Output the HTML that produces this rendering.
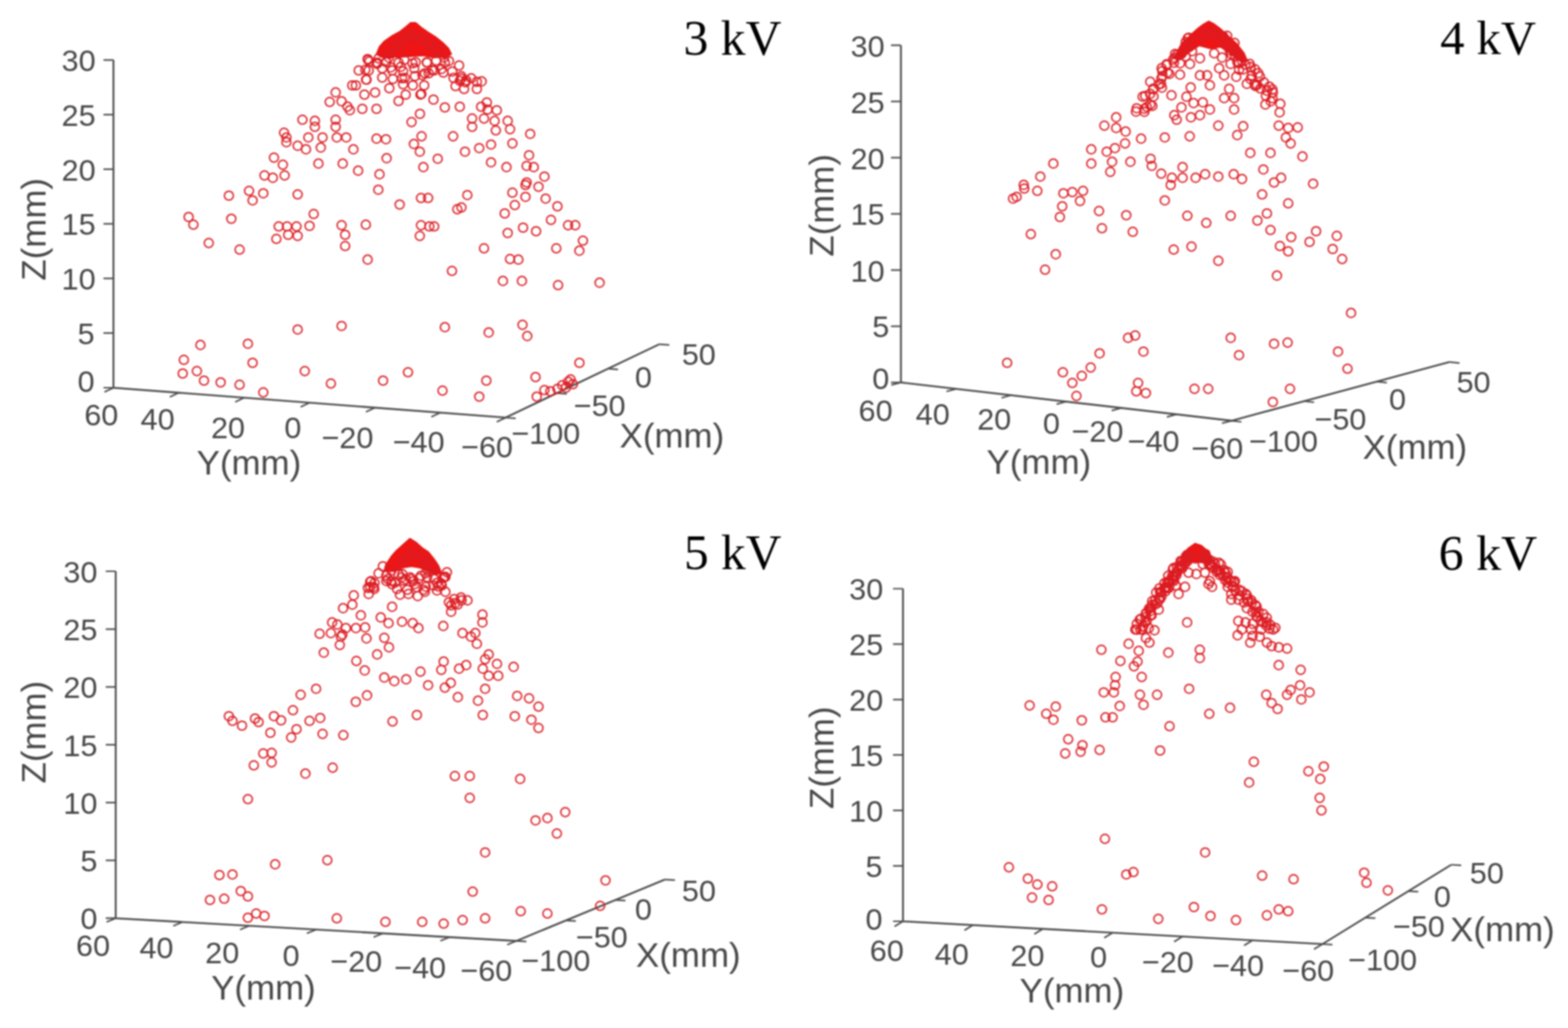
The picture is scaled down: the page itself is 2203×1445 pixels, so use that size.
<!DOCTYPE html>
<html><head><meta charset="utf-8"><style>
html,body{margin:0;padding:0;background:#fff;}
body{width:2203px;height:1445px;overflow:hidden;}
svg{display:block;filter:blur(0.9px);}
</style></head><body>
<svg width="2203" height="1445" viewBox="0 0 2203 1445">
<rect width="2203" height="1445" fill="#fff"/>
<g><path d="M159.4,84.3 L159.4,545 L710.5,587 L926.3,483.8" fill="none" stroke="#4c4c4c" stroke-width="2.6" stroke-linejoin="miter"/><path d="M159.4,545.0 L145.4,545.0 M159.4,468.2 L145.4,468.2 M159.4,391.4 L145.4,391.4 M159.4,314.6 L145.4,314.6 M159.4,237.9 L145.4,237.9 M159.4,161.1 L145.4,161.1 M159.4,84.3 L145.4,84.3 M159.4,545.0 L146.8,551.0 M251.2,552.0 L238.6,558.0 M343.1,559.0 L330.5,565.0 M435.0,566.0 L422.3,572.0 M526.8,573.0 L514.2,579.0 M618.6,580.0 L606.0,586.0 M710.5,587.0 L697.9,593.0 M710.5,587.0 L724.5,588.1 M782.4,552.6 L796.4,553.7 M854.4,518.2 L868.3,519.3 M926.3,483.8 L940.3,484.9" stroke="#4c4c4c" stroke-width="2.2" fill="none"/><text x="108.9" y="550.8" font-family="Liberation Sans" font-size="43" fill="#484848">0</text><text x="108.9" y="483.8" font-family="Liberation Sans" font-size="43" fill="#484848">5</text><text x="86.5" y="407.3" font-family="Liberation Sans" font-size="43" fill="#484848">10</text><text x="86.5" y="330.3" font-family="Liberation Sans" font-size="43" fill="#484848">15</text><text x="86.5" y="253.7" font-family="Liberation Sans" font-size="43" fill="#484848">20</text><text x="86.5" y="176.9" font-family="Liberation Sans" font-size="43" fill="#484848">25</text><text x="86.5" y="100.1" font-family="Liberation Sans" font-size="43" fill="#484848">30</text><text x="118.4" y="597.8" font-family="Liberation Sans" font-size="43" fill="#484848">60</text><text x="197.5" y="603.8" font-family="Liberation Sans" font-size="43" fill="#484848">40</text><text x="296.4" y="615.8" font-family="Liberation Sans" font-size="43" fill="#484848">20</text><text x="399.4" y="616.4" font-family="Liberation Sans" font-size="43" fill="#484848">0</text><text x="451.7" y="629.6" font-family="Liberation Sans" font-size="43" fill="#484848">−20</text><text x="551.7" y="636.2" font-family="Liberation Sans" font-size="43" fill="#484848">−40</text><text x="647.8" y="643.4" font-family="Liberation Sans" font-size="43" fill="#484848">−60</text><text x="718.4" y="624.1" font-family="Liberation Sans" font-size="43" fill="#484848">−100</text><text x="806.1" y="584.5" font-family="Liberation Sans" font-size="43" fill="#484848">−50</text><text x="892.1" y="545.1" font-family="Liberation Sans" font-size="43" fill="#484848">0</text><text x="957.9" y="512.5" font-family="Liberation Sans" font-size="43" fill="#484848">50</text><text x="276.3" y="666.9" font-family="Liberation Sans" font-size="49" fill="#484848">Y(mm)</text><text x="870.5" y="628.6" font-family="Liberation Sans" font-size="49" fill="#484848">X(mm)</text><text transform="translate(51.5,323.1) rotate(-90) translate(-71.3,12.6)" font-family="Liberation Sans" font-size="49" fill="#484848">Z(mm)</text><text x="960.2" y="76.8" font-family="Liberation Serif" font-size="69.9" fill="#000">3 kV</text><path d="M529,76 L533,66 L540,58 L550,51 L561,45 L570,38 L577,32 L584,32 L591,38 L601,45 L612,52 L622,60 L630,68 L634,76 L626,80 L610,81 L595,78 L580,79 L565,80 L548,80 L535,80 Z" fill="#f01414" stroke="#e01818" stroke-width="2" stroke-linejoin="round"/><g fill="none" stroke="#dc1c22" stroke-width="2.0"><circle cx="517.0" cy="84.0" r="6.3"/><circle cx="504.0" cy="99.0" r="6.3"/><circle cx="518.0" cy="99.0" r="6.3"/><circle cx="537.0" cy="96.0" r="6.3"/><circle cx="551.0" cy="99.0" r="6.3"/><circle cx="515.0" cy="112.0" r="6.3"/><circle cx="537.0" cy="109.0" r="6.3"/><circle cx="552.0" cy="111.0" r="6.3"/><circle cx="565.0" cy="110.0" r="6.3"/><circle cx="582.0" cy="96.0" r="6.3"/><circle cx="583.0" cy="107.0" r="6.3"/><circle cx="597.0" cy="103.0" r="6.3"/><circle cx="610.0" cy="99.0" r="6.3"/><circle cx="623.0" cy="102.0" r="6.3"/><circle cx="645.0" cy="92.0" r="6.3"/><circle cx="648.0" cy="107.0" r="6.3"/><circle cx="640.0" cy="121.0" r="6.3"/><circle cx="652.0" cy="125.0" r="6.3"/><circle cx="670.0" cy="115.0" r="6.3"/><circle cx="670.0" cy="125.0" r="6.3"/><circle cx="662.0" cy="110.0" r="6.3"/><circle cx="580.0" cy="120.0" r="6.3"/><circle cx="596.0" cy="120.0" r="6.3"/><circle cx="547.0" cy="124.0" r="6.3"/><circle cx="527.0" cy="130.0" r="6.3"/><circle cx="512.0" cy="133.0" r="6.3"/><circle cx="570.0" cy="133.0" r="6.3"/><circle cx="560.0" cy="142.0" r="6.3"/><circle cx="592.0" cy="132.0" r="6.3"/><circle cx="609.0" cy="140.0" r="6.3"/><circle cx="625.0" cy="151.0" r="6.3"/><circle cx="646.0" cy="150.0" r="6.3"/><circle cx="684.0" cy="144.0" r="6.3"/><circle cx="676.0" cy="150.0" r="6.3"/><circle cx="698.0" cy="155.0" r="6.3"/><circle cx="685.0" cy="154.0" r="6.3"/><circle cx="590.0" cy="160.0" r="6.3"/><circle cx="529.0" cy="153.0" r="6.3"/><circle cx="509.0" cy="153.0" r="6.3"/><circle cx="500.0" cy="120.0" r="6.3"/><circle cx="560.0" cy="88.0" r="6.3"/><circle cx="600.0" cy="88.0" r="6.3"/><circle cx="625.0" cy="88.0" r="6.3"/><circle cx="530.0" cy="88.0" r="6.3"/><circle cx="516.5" cy="83.0" r="6.3"/><circle cx="532.0" cy="82.0" r="6.3"/><circle cx="546.4" cy="80.9" r="6.3"/><circle cx="584.0" cy="87.5" r="6.3"/><circle cx="599.6" cy="87.5" r="6.3"/><circle cx="612.8" cy="85.3" r="6.3"/><circle cx="624.0" cy="80.9" r="6.3"/><circle cx="568.0" cy="84.0" r="6.3"/><circle cx="637.2" cy="109.6" r="6.3"/><circle cx="655.0" cy="113.0" r="6.3"/><circle cx="514.3" cy="111.8" r="6.3"/><circle cx="566.3" cy="118.5" r="6.3"/><circle cx="568.6" cy="109.6" r="6.3"/><circle cx="590.7" cy="132.9" r="6.3"/><circle cx="494.9" cy="120.0" r="6.3"/><circle cx="471.6" cy="129.9" r="6.3"/><circle cx="463.2" cy="143.3" r="6.3"/><circle cx="479.9" cy="142.4" r="6.3"/><circle cx="488.2" cy="149.9" r="6.3"/><circle cx="491.5" cy="154.9" r="6.3"/><circle cx="424.9" cy="168.3" r="6.3"/><circle cx="442.4" cy="169.9" r="6.3"/><circle cx="442.4" cy="178.3" r="6.3"/><circle cx="471.6" cy="168.3" r="6.3"/><circle cx="471.6" cy="178.3" r="6.3"/><circle cx="399.1" cy="186.6" r="6.3"/><circle cx="402.4" cy="193.2" r="6.3"/><circle cx="402.4" cy="199.9" r="6.3"/><circle cx="433.2" cy="193.2" r="6.3"/><circle cx="453.2" cy="193.2" r="6.3"/><circle cx="473.2" cy="193.2" r="6.3"/><circle cx="486.5" cy="193.2" r="6.3"/><circle cx="418.2" cy="204.9" r="6.3"/><circle cx="429.9" cy="209.9" r="6.3"/><circle cx="450.7" cy="207.4" r="6.3"/><circle cx="496.5" cy="209.9" r="6.3"/><circle cx="529.0" cy="194.9" r="6.3"/><circle cx="542.3" cy="195.7" r="6.3"/><circle cx="578.2" cy="171.6" r="6.3"/><circle cx="592.3" cy="191.6" r="6.3"/><circle cx="581.5" cy="202.4" r="6.3"/><circle cx="589.8" cy="213.2" r="6.3"/><circle cx="594.8" cy="234.9" r="6.3"/><circle cx="543.2" cy="222.4" r="6.3"/><circle cx="533.2" cy="244.9" r="6.3"/><circle cx="503.2" cy="239.9" r="6.3"/><circle cx="481.5" cy="229.9" r="6.3"/><circle cx="447.4" cy="229.9" r="6.3"/><circle cx="384.9" cy="221.6" r="6.3"/><circle cx="397.4" cy="231.6" r="6.3"/><circle cx="399.9" cy="246.6" r="6.3"/><circle cx="383.3" cy="249.9" r="6.3"/><circle cx="371.6" cy="246.6" r="6.3"/><circle cx="680.0" cy="166.6" r="6.3"/><circle cx="694.9" cy="169.9" r="6.3"/><circle cx="663.3" cy="166.6" r="6.3"/><circle cx="663.3" cy="178.3" r="6.3"/><circle cx="713.3" cy="169.9" r="6.3"/><circle cx="716.6" cy="181.6" r="6.3"/><circle cx="696.6" cy="183.3" r="6.3"/><circle cx="744.9" cy="188.2" r="6.3"/><circle cx="719.9" cy="201.6" r="6.3"/><circle cx="689.9" cy="203.2" r="6.3"/><circle cx="673.3" cy="208.2" r="6.3"/><circle cx="653.3" cy="213.2" r="6.3"/><circle cx="636.6" cy="191.6" r="6.3"/><circle cx="615.0" cy="223.2" r="6.3"/><circle cx="689.9" cy="228.2" r="6.3"/><circle cx="711.6" cy="234.9" r="6.3"/><circle cx="743.3" cy="218.2" r="6.3"/><circle cx="739.9" cy="233.2" r="6.3"/><circle cx="749.9" cy="234.9" r="6.3"/><circle cx="764.9" cy="248.2" r="6.3"/><circle cx="739.9" cy="256.5" r="6.3"/><circle cx="321.6" cy="275.0" r="6.3"/><circle cx="349.9" cy="268.3" r="6.3"/><circle cx="369.9" cy="271.7" r="6.3"/><circle cx="354.9" cy="281.7" r="6.3"/><circle cx="418.2" cy="273.3" r="6.3"/><circle cx="265.0" cy="305.0" r="6.3"/><circle cx="271.7" cy="315.8" r="6.3"/><circle cx="325.0" cy="307.5" r="6.3"/><circle cx="293.3" cy="341.6" r="6.3"/><circle cx="336.6" cy="350.8" r="6.3"/><circle cx="391.6" cy="318.3" r="6.3"/><circle cx="403.3" cy="318.3" r="6.3"/><circle cx="416.6" cy="318.3" r="6.3"/><circle cx="434.9" cy="317.5" r="6.3"/><circle cx="440.7" cy="300.8" r="6.3"/><circle cx="388.3" cy="335.8" r="6.3"/><circle cx="404.9" cy="330.0" r="6.3"/><circle cx="418.2" cy="331.6" r="6.3"/><circle cx="479.9" cy="316.6" r="6.3"/><circle cx="484.9" cy="330.0" r="6.3"/><circle cx="484.9" cy="345.8" r="6.3"/><circle cx="514.0" cy="315.8" r="6.3"/><circle cx="516.5" cy="364.9" r="6.3"/><circle cx="531.5" cy="266.7" r="6.3"/><circle cx="561.5" cy="287.5" r="6.3"/><circle cx="591.5" cy="278.3" r="6.3"/><circle cx="601.5" cy="278.3" r="6.3"/><circle cx="591.5" cy="316.6" r="6.3"/><circle cx="589.8" cy="331.6" r="6.3"/><circle cx="603.2" cy="318.3" r="6.3"/><circle cx="418.2" cy="463.2" r="6.3"/><circle cx="479.9" cy="458.2" r="6.3"/><circle cx="281.6" cy="484.9" r="6.3"/><circle cx="348.3" cy="483.2" r="6.3"/><circle cx="656.6" cy="274.2" r="6.3"/><circle cx="642.5" cy="294.1" r="6.3"/><circle cx="648.3" cy="291.6" r="6.3"/><circle cx="719.9" cy="270.8" r="6.3"/><circle cx="738.3" cy="260.0" r="6.3"/><circle cx="756.6" cy="262.5" r="6.3"/><circle cx="738.3" cy="276.7" r="6.3"/><circle cx="723.3" cy="288.3" r="6.3"/><circle cx="709.1" cy="300.0" r="6.3"/><circle cx="766.6" cy="279.2" r="6.3"/><circle cx="783.2" cy="290.0" r="6.3"/><circle cx="774.1" cy="309.1" r="6.3"/><circle cx="798.2" cy="316.6" r="6.3"/><circle cx="808.2" cy="316.6" r="6.3"/><circle cx="819.0" cy="338.3" r="6.3"/><circle cx="814.0" cy="352.4" r="6.3"/><circle cx="781.6" cy="349.1" r="6.3"/><circle cx="734.9" cy="320.0" r="6.3"/><circle cx="753.2" cy="325.0" r="6.3"/><circle cx="713.3" cy="327.5" r="6.3"/><circle cx="680.0" cy="349.1" r="6.3"/><circle cx="716.6" cy="364.1" r="6.3"/><circle cx="728.3" cy="364.9" r="6.3"/><circle cx="635.0" cy="380.8" r="6.3"/><circle cx="706.6" cy="394.9" r="6.3"/><circle cx="733.3" cy="394.9" r="6.3"/><circle cx="784.1" cy="400.8" r="6.3"/><circle cx="842.4" cy="397.4" r="6.3"/><circle cx="610.0" cy="318.3" r="6.3"/><circle cx="625.0" cy="459.9" r="6.3"/><circle cx="686.6" cy="467.4" r="6.3"/><circle cx="734.1" cy="456.6" r="6.3"/><circle cx="740.8" cy="472.4" r="6.3"/><circle cx="258.3" cy="505.8" r="6.3"/><circle cx="256.7" cy="525.0" r="6.3"/><circle cx="276.6" cy="521.6" r="6.3"/><circle cx="286.6" cy="535.0" r="6.3"/><circle cx="310.0" cy="537.5" r="6.3"/><circle cx="336.6" cy="540.8" r="6.3"/><circle cx="369.9" cy="551.6" r="6.3"/><circle cx="354.9" cy="510.0" r="6.3"/><circle cx="428.2" cy="521.6" r="6.3"/><circle cx="464.9" cy="539.1" r="6.3"/><circle cx="538.2" cy="535.0" r="6.3"/><circle cx="573.2" cy="523.3" r="6.3"/><circle cx="621.7" cy="549.1" r="6.3"/><circle cx="683.3" cy="535.0" r="6.3"/><circle cx="673.3" cy="557.5" r="6.3"/><circle cx="752.4" cy="530.0" r="6.3"/><circle cx="814.1" cy="510.0" r="6.3"/><circle cx="754.1" cy="557.5" r="6.3"/><circle cx="764.9" cy="548.3" r="6.3"/><circle cx="773.2" cy="550.0" r="6.3"/><circle cx="783.2" cy="546.6" r="6.3"/><circle cx="789.9" cy="541.6" r="6.3"/><circle cx="798.2" cy="536.6" r="6.3"/><circle cx="801.6" cy="533.3" r="6.3"/><circle cx="804.9" cy="540.0" r="6.3"/><circle cx="794.9" cy="545.0" r="6.3"/><circle cx="513.3" cy="98.2" r="6.3"/><circle cx="519.0" cy="86.2" r="6.3"/><circle cx="529.8" cy="89.7" r="6.3"/><circle cx="542.7" cy="87.5" r="6.3"/><circle cx="549.0" cy="94.7" r="6.3"/><circle cx="563.2" cy="93.9" r="6.3"/><circle cx="566.4" cy="100.1" r="6.3"/><circle cx="579.6" cy="89.0" r="6.3"/><circle cx="593.6" cy="105.6" r="6.3"/><circle cx="602.3" cy="103.0" r="6.3"/><circle cx="606.9" cy="98.5" r="6.3"/><circle cx="620.5" cy="96.9" r="6.3"/><circle cx="630.7" cy="85.7" r="6.3"/><circle cx="635.3" cy="100.5" r="6.3"/><circle cx="646.0" cy="113.6" r="6.3"/><circle cx="648.1" cy="110.4" r="6.3"/><circle cx="653.8" cy="115.7" r="6.3"/><circle cx="676.7" cy="114.4" r="6.3"/><circle cx="547.2" cy="75.8" r="6.3"/><circle cx="552.1" cy="66.6" r="6.3"/><circle cx="556.4" cy="65.5" r="6.3"/><circle cx="563.4" cy="63.9" r="6.3"/><circle cx="562.0" cy="57.5" r="6.3"/><circle cx="571.8" cy="54.2" r="6.3"/><circle cx="574.0" cy="48.3" r="6.3"/><circle cx="580.5" cy="50.6" r="6.3"/><circle cx="580.9" cy="52.4" r="6.3"/><circle cx="592.9" cy="52.3" r="6.3"/><circle cx="591.1" cy="56.0" r="6.3"/><circle cx="600.7" cy="61.1" r="6.3"/><circle cx="601.9" cy="62.2" r="6.3"/><circle cx="606.7" cy="63.3" r="6.3"/><circle cx="612.4" cy="69.3" r="6.3"/><circle cx="617.4" cy="69.9" r="6.3"/></g></g>
<g><path d="M1265.8,63.7 L1265.8,537.6 L1730.3,591.4 L2036.7,508.8" fill="none" stroke="#4c4c4c" stroke-width="2.6" stroke-linejoin="miter"/><path d="M1265.8,537.6 L1251.8,537.6 M1265.8,458.6 L1251.8,458.6 M1265.8,379.6 L1251.8,379.6 M1265.8,300.6 L1251.8,300.6 M1265.8,221.7 L1251.8,221.7 M1265.8,142.7 L1251.8,142.7 M1265.8,63.7 L1251.8,63.7 M1265.8,537.6 L1252.3,541.2 M1343.2,546.6 L1329.7,550.2 M1420.6,555.5 L1407.1,559.2 M1498.0,564.5 L1484.5,568.1 M1575.5,573.5 L1561.9,577.1 M1652.9,582.4 L1639.4,586.1 M1730.3,591.4 L1716.8,595.0 M1730.3,591.4 L1744.2,593.0 M1832.4,563.9 L1846.3,565.5 M1934.6,536.3 L1948.5,537.9 M2036.7,508.8 L2050.6,510.4" stroke="#4c4c4c" stroke-width="2.2" fill="none"/><text x="1225.4" y="547.4" font-family="Liberation Sans" font-size="43" fill="#484848">0</text><text x="1225.4" y="474.2" font-family="Liberation Sans" font-size="43" fill="#484848">5</text><text x="1195.0" y="395.5" font-family="Liberation Sans" font-size="43" fill="#484848">10</text><text x="1195.0" y="316.3" font-family="Liberation Sans" font-size="43" fill="#484848">15</text><text x="1195.0" y="237.5" font-family="Liberation Sans" font-size="43" fill="#484848">20</text><text x="1195.0" y="158.5" font-family="Liberation Sans" font-size="43" fill="#484848">25</text><text x="1195.0" y="79.5" font-family="Liberation Sans" font-size="43" fill="#484848">30</text><text x="1206.3" y="592.3" font-family="Liberation Sans" font-size="43" fill="#484848">60</text><text x="1286.5" y="596.8" font-family="Liberation Sans" font-size="43" fill="#484848">40</text><text x="1372.9" y="603.8" font-family="Liberation Sans" font-size="43" fill="#484848">20</text><text x="1465.3" y="609.8" font-family="Liberation Sans" font-size="43" fill="#484848">0</text><text x="1505.5" y="621.3" font-family="Liberation Sans" font-size="43" fill="#484848">−20</text><text x="1584.3" y="635.3" font-family="Liberation Sans" font-size="43" fill="#484848">−40</text><text x="1673.8" y="644.6" font-family="Liberation Sans" font-size="43" fill="#484848">−60</text><text x="1754.8" y="635.3" font-family="Liberation Sans" font-size="43" fill="#484848">−100</text><text x="1846.8" y="603.9" font-family="Liberation Sans" font-size="43" fill="#484848">−50</text><text x="1951.6" y="576.1" font-family="Liberation Sans" font-size="43" fill="#484848">0</text><text x="2046.4" y="551.7" font-family="Liberation Sans" font-size="43" fill="#484848">50</text><text x="1386.1" y="665.6" font-family="Liberation Sans" font-size="49" fill="#484848">Y(mm)</text><text x="1914.4" y="644.6" font-family="Liberation Sans" font-size="49" fill="#484848">X(mm)</text><text transform="translate(1158.8,289.4) rotate(-90) translate(-71.3,12.6)" font-family="Liberation Sans" font-size="49" fill="#484848">Z(mm)</text><text x="2023.4" y="75.9" font-family="Liberation Serif" font-size="68.3" fill="#000">4 kV</text><path d="M1698,30 L1706,34 L1714,40 L1725,50 L1738,62 L1748,75 L1752,85 L1745,88 L1730,76 L1715,66 L1700,68 L1685,64 L1670,74 L1658,84 L1650,80 L1660,62 L1672,50 L1683,40 L1691,34 Z" fill="#f01414" stroke="#e01818" stroke-width="2" stroke-linejoin="round"/><g fill="none" stroke="#dc1c22" stroke-width="2.0"><circle cx="1665.9" cy="59.0" r="6.3"/><circle cx="1650.9" cy="75.9" r="6.3"/><circle cx="1657.9" cy="88.9" r="6.3"/><circle cx="1642.9" cy="103.9" r="6.3"/><circle cx="1632.0" cy="95.9" r="6.3"/><circle cx="1657.9" cy="104.9" r="6.3"/><circle cx="1671.9" cy="89.9" r="6.3"/><circle cx="1685.9" cy="81.9" r="6.3"/><circle cx="1705.9" cy="74.9" r="6.3"/><circle cx="1716.9" cy="80.9" r="6.3"/><circle cx="1728.9" cy="89.9" r="6.3"/><circle cx="1740.8" cy="97.9" r="6.3"/><circle cx="1736.9" cy="107.9" r="6.3"/><circle cx="1755.8" cy="89.9" r="6.3"/><circle cx="1767.8" cy="102.9" r="6.3"/><circle cx="1751.8" cy="117.9" r="6.3"/><circle cx="1763.8" cy="120.9" r="6.3"/><circle cx="1775.8" cy="115.9" r="6.3"/><circle cx="1787.8" cy="125.9" r="6.3"/><circle cx="1777.8" cy="146.9" r="6.3"/><circle cx="1798.8" cy="145.9" r="6.3"/><circle cx="1797.8" cy="157.9" r="6.3"/><circle cx="1685.9" cy="105.9" r="6.3"/><circle cx="1695.9" cy="105.9" r="6.3"/><circle cx="1719.9" cy="105.9" r="6.3"/><circle cx="1712.9" cy="95.9" r="6.3"/><circle cx="1672.9" cy="122.9" r="6.3"/><circle cx="1699.9" cy="119.9" r="6.3"/><circle cx="1726.9" cy="124.9" r="6.3"/><circle cx="1645.9" cy="133.9" r="6.3"/><circle cx="1666.9" cy="135.9" r="6.3"/><circle cx="1719.9" cy="137.9" r="6.3"/><circle cx="1733.9" cy="137.9" r="6.3"/><circle cx="1616.0" cy="114.9" r="6.3"/><circle cx="1628.0" cy="118.9" r="6.3"/><circle cx="1616.0" cy="131.9" r="6.3"/><circle cx="1619.0" cy="148.9" r="6.3"/><circle cx="1608.0" cy="152.9" r="6.3"/><circle cx="1596.0" cy="156.9" r="6.3"/><circle cx="1659.9" cy="150.9" r="6.3"/><circle cx="1676.9" cy="144.9" r="6.3"/><circle cx="1689.9" cy="143.9" r="6.3"/><circle cx="1699.9" cy="153.9" r="6.3"/><circle cx="1733.9" cy="153.9" r="6.3"/><circle cx="1685.9" cy="161.9" r="6.3"/><circle cx="1649.9" cy="161.9" r="6.3"/><circle cx="1787.8" cy="137.9" r="6.3"/><circle cx="1659.9" cy="75.9" r="6.3"/><circle cx="1729.9" cy="75.9" r="6.3"/><circle cx="1744.8" cy="84.9" r="6.3"/><circle cx="1674.9" cy="71.9" r="6.3"/><circle cx="1551.6" cy="176.6" r="6.3"/><circle cx="1568.2" cy="164.9" r="6.3"/><circle cx="1568.2" cy="179.9" r="6.3"/><circle cx="1581.5" cy="184.9" r="6.3"/><circle cx="1603.2" cy="194.9" r="6.3"/><circle cx="1636.5" cy="193.2" r="6.3"/><circle cx="1671.5" cy="191.6" r="6.3"/><circle cx="1653.2" cy="168.3" r="6.3"/><circle cx="1673.2" cy="164.9" r="6.3"/><circle cx="1580.7" cy="201.6" r="6.3"/><circle cx="1566.5" cy="208.2" r="6.3"/><circle cx="1554.9" cy="213.2" r="6.3"/><circle cx="1533.2" cy="209.9" r="6.3"/><circle cx="1533.2" cy="229.9" r="6.3"/><circle cx="1562.4" cy="227.4" r="6.3"/><circle cx="1559.9" cy="241.6" r="6.3"/><circle cx="1588.2" cy="227.4" r="6.3"/><circle cx="1616.5" cy="223.2" r="6.3"/><circle cx="1618.2" cy="233.2" r="6.3"/><circle cx="1631.5" cy="244.1" r="6.3"/><circle cx="1646.5" cy="249.9" r="6.3"/><circle cx="1661.5" cy="234.9" r="6.3"/><circle cx="1661.5" cy="249.9" r="6.3"/><circle cx="1679.8" cy="249.9" r="6.3"/><circle cx="1693.2" cy="244.9" r="6.3"/><circle cx="1479.9" cy="229.9" r="6.3"/><circle cx="1461.6" cy="248.2" r="6.3"/><circle cx="1438.3" cy="259.9" r="6.3"/><circle cx="1796.6" cy="176.6" r="6.3"/><circle cx="1809.9" cy="179.9" r="6.3"/><circle cx="1823.3" cy="179.1" r="6.3"/><circle cx="1806.6" cy="193.2" r="6.3"/><circle cx="1813.3" cy="201.6" r="6.3"/><circle cx="1829.9" cy="219.9" r="6.3"/><circle cx="1785.0" cy="214.9" r="6.3"/><circle cx="1756.6" cy="214.9" r="6.3"/><circle cx="1746.6" cy="177.4" r="6.3"/><circle cx="1738.3" cy="189.9" r="6.3"/><circle cx="1711.7" cy="176.6" r="6.3"/><circle cx="1711.7" cy="248.2" r="6.3"/><circle cx="1733.3" cy="244.9" r="6.3"/><circle cx="1745.0" cy="251.6" r="6.3"/><circle cx="1775.0" cy="238.2" r="6.3"/><circle cx="1790.0" cy="256.5" r="6.3"/><circle cx="1799.9" cy="249.9" r="6.3"/><circle cx="1844.9" cy="258.2" r="6.3"/><circle cx="1423.3" cy="279.2" r="6.3"/><circle cx="1428.3" cy="276.7" r="6.3"/><circle cx="1439.1" cy="265.0" r="6.3"/><circle cx="1457.4" cy="268.3" r="6.3"/><circle cx="1494.1" cy="271.7" r="6.3"/><circle cx="1506.6" cy="270.0" r="6.3"/><circle cx="1521.6" cy="268.3" r="6.3"/><circle cx="1517.4" cy="282.5" r="6.3"/><circle cx="1492.4" cy="290.0" r="6.3"/><circle cx="1489.1" cy="305.0" r="6.3"/><circle cx="1544.1" cy="296.6" r="6.3"/><circle cx="1548.2" cy="320.8" r="6.3"/><circle cx="1582.4" cy="302.5" r="6.3"/><circle cx="1591.5" cy="325.8" r="6.3"/><circle cx="1636.5" cy="281.7" r="6.3"/><circle cx="1644.8" cy="260.0" r="6.3"/><circle cx="1668.2" cy="303.3" r="6.3"/><circle cx="1694.8" cy="313.3" r="6.3"/><circle cx="1448.3" cy="329.1" r="6.3"/><circle cx="1483.3" cy="357.4" r="6.3"/><circle cx="1468.3" cy="379.1" r="6.3"/><circle cx="1649.0" cy="350.8" r="6.3"/><circle cx="1674.0" cy="346.6" r="6.3"/><circle cx="1584.9" cy="474.9" r="6.3"/><circle cx="1594.9" cy="471.6" r="6.3"/><circle cx="1773.3" cy="273.3" r="6.3"/><circle cx="1809.9" cy="285.8" r="6.3"/><circle cx="1729.1" cy="303.3" r="6.3"/><circle cx="1780.0" cy="300.0" r="6.3"/><circle cx="1766.6" cy="310.0" r="6.3"/><circle cx="1785.0" cy="323.3" r="6.3"/><circle cx="1814.1" cy="333.3" r="6.3"/><circle cx="1798.3" cy="345.8" r="6.3"/><circle cx="1809.9" cy="353.3" r="6.3"/><circle cx="1849.1" cy="325.0" r="6.3"/><circle cx="1839.9" cy="340.0" r="6.3"/><circle cx="1878.2" cy="331.6" r="6.3"/><circle cx="1872.4" cy="350.0" r="6.3"/><circle cx="1885.7" cy="364.1" r="6.3"/><circle cx="1711.7" cy="366.6" r="6.3"/><circle cx="1794.1" cy="387.4" r="6.3"/><circle cx="1898.2" cy="439.9" r="6.3"/><circle cx="1729.1" cy="474.9" r="6.3"/><circle cx="1790.0" cy="483.2" r="6.3"/><circle cx="1809.1" cy="481.6" r="6.3"/><circle cx="1415.0" cy="510.0" r="6.3"/><circle cx="1544.9" cy="496.7" r="6.3"/><circle cx="1532.4" cy="516.6" r="6.3"/><circle cx="1519.9" cy="528.3" r="6.3"/><circle cx="1493.3" cy="523.3" r="6.3"/><circle cx="1506.6" cy="538.3" r="6.3"/><circle cx="1512.4" cy="556.6" r="6.3"/><circle cx="1599.0" cy="538.3" r="6.3"/><circle cx="1596.5" cy="550.0" r="6.3"/><circle cx="1609.9" cy="552.5" r="6.3"/><circle cx="1678.2" cy="546.6" r="6.3"/><circle cx="1606.5" cy="494.2" r="6.3"/><circle cx="1740.8" cy="499.2" r="6.3"/><circle cx="1879.9" cy="494.2" r="6.3"/><circle cx="1893.2" cy="518.3" r="6.3"/><circle cx="1697.5" cy="546.6" r="6.3"/><circle cx="1812.4" cy="546.6" r="6.3"/><circle cx="1788.3" cy="565.0" r="6.3"/><circle cx="1689.7" cy="50.8" r="6.3"/><circle cx="1689.9" cy="48.3" r="6.3"/><circle cx="1696.0" cy="45.6" r="6.3"/><circle cx="1703.1" cy="44.8" r="6.3"/><circle cx="1705.1" cy="47.8" r="6.3"/><circle cx="1708.9" cy="49.2" r="6.3"/><circle cx="1683.1" cy="57.4" r="6.3"/><circle cx="1670.2" cy="53.0" r="6.3"/><circle cx="1668.7" cy="53.8" r="6.3"/><circle cx="1669.8" cy="65.1" r="6.3"/><circle cx="1665.0" cy="64.9" r="6.3"/><circle cx="1662.9" cy="69.5" r="6.3"/><circle cx="1665.8" cy="79.3" r="6.3"/><circle cx="1654.2" cy="76.9" r="6.3"/><circle cx="1650.5" cy="81.3" r="6.3"/><circle cx="1648.1" cy="83.8" r="6.3"/><circle cx="1649.4" cy="88.2" r="6.3"/><circle cx="1639.0" cy="90.4" r="6.3"/><circle cx="1639.2" cy="91.3" r="6.3"/><circle cx="1640.4" cy="102.1" r="6.3"/><circle cx="1633.0" cy="99.8" r="6.3"/><circle cx="1633.4" cy="106.7" r="6.3"/><circle cx="1631.6" cy="110.2" r="6.3"/><circle cx="1631.2" cy="117.7" r="6.3"/><circle cx="1632.5" cy="123.2" r="6.3"/><circle cx="1620.3" cy="124.6" r="6.3"/><circle cx="1620.3" cy="125.4" r="6.3"/><circle cx="1620.6" cy="135.7" r="6.3"/><circle cx="1609.0" cy="134.7" r="6.3"/><circle cx="1605.4" cy="135.8" r="6.3"/><circle cx="1616.2" cy="147.0" r="6.3"/><circle cx="1611.2" cy="150.3" r="6.3"/><circle cx="1607.9" cy="157.2" r="6.3"/><circle cx="1596.9" cy="152.2" r="6.3"/><circle cx="1718.5" cy="51.0" r="6.3"/><circle cx="1724.1" cy="50.3" r="6.3"/><circle cx="1721.7" cy="59.8" r="6.3"/><circle cx="1724.0" cy="64.5" r="6.3"/><circle cx="1734.4" cy="60.4" r="6.3"/><circle cx="1727.7" cy="70.8" r="6.3"/><circle cx="1733.9" cy="72.5" r="6.3"/><circle cx="1735.3" cy="78.8" r="6.3"/><circle cx="1740.2" cy="77.4" r="6.3"/><circle cx="1738.4" cy="87.3" r="6.3"/><circle cx="1740.6" cy="89.2" r="6.3"/><circle cx="1749.7" cy="91.0" r="6.3"/><circle cx="1746.5" cy="97.7" r="6.3"/><circle cx="1757.0" cy="94.3" r="6.3"/><circle cx="1763.2" cy="97.3" r="6.3"/><circle cx="1758.8" cy="105.9" r="6.3"/><circle cx="1757.0" cy="111.2" r="6.3"/><circle cx="1770.2" cy="107.6" r="6.3"/><circle cx="1762.7" cy="118.5" r="6.3"/><circle cx="1766.3" cy="119.4" r="6.3"/><circle cx="1770.7" cy="124.3" r="6.3"/><circle cx="1783.4" cy="121.7" r="6.3"/><circle cx="1780.0" cy="127.5" r="6.3"/><circle cx="1778.6" cy="134.8" r="6.3"/><circle cx="1788.4" cy="130.0" r="6.3"/><circle cx="1785.3" cy="142.4" r="6.3"/></g></g>
<g><path d="M162.6,803 L162.6,1290.7 L725.5,1322.6 L934.3,1236.3" fill="none" stroke="#4c4c4c" stroke-width="2.6" stroke-linejoin="miter"/><path d="M162.6,1290.7 L148.6,1290.7 M162.6,1209.4 L148.6,1209.4 M162.6,1128.1 L148.6,1128.1 M162.6,1046.8 L148.6,1046.8 M162.6,965.6 L148.6,965.6 M162.6,884.3 L148.6,884.3 M162.6,803.0 L148.6,803.0 M162.6,1290.7 L149.7,1296.0 M256.4,1296.0 L243.5,1301.4 M350.2,1301.3 L337.3,1306.7 M444.0,1306.7 L431.1,1312.0 M537.9,1312.0 L524.9,1317.3 M631.7,1317.3 L618.7,1322.6 M725.5,1322.6 L712.6,1327.9 M725.5,1322.6 L739.5,1323.4 M795.1,1293.8 L809.1,1294.6 M864.7,1265.1 L878.7,1265.9 M934.3,1236.3 L948.3,1237.1" stroke="#4c4c4c" stroke-width="2.2" fill="none"/><text x="112.9" y="1305.5" font-family="Liberation Sans" font-size="43" fill="#484848">0</text><text x="112.9" y="1225.0" font-family="Liberation Sans" font-size="43" fill="#484848">5</text><text x="89.0" y="1144.0" font-family="Liberation Sans" font-size="43" fill="#484848">10</text><text x="89.0" y="1062.5" font-family="Liberation Sans" font-size="43" fill="#484848">15</text><text x="89.0" y="981.4" font-family="Liberation Sans" font-size="43" fill="#484848">20</text><text x="89.0" y="900.1" font-family="Liberation Sans" font-size="43" fill="#484848">25</text><text x="89.0" y="818.8" font-family="Liberation Sans" font-size="43" fill="#484848">30</text><text x="106.8" y="1344.2" font-family="Liberation Sans" font-size="43" fill="#484848">60</text><text x="195.9" y="1346.5" font-family="Liberation Sans" font-size="43" fill="#484848">40</text><text x="288.3" y="1354.4" font-family="Liberation Sans" font-size="43" fill="#484848">20</text><text x="397.0" y="1357.8" font-family="Liberation Sans" font-size="43" fill="#484848">0</text><text x="464.1" y="1365.7" font-family="Liberation Sans" font-size="43" fill="#484848">−20</text><text x="553.8" y="1374.8" font-family="Liberation Sans" font-size="43" fill="#484848">−40</text><text x="646.8" y="1379.4" font-family="Liberation Sans" font-size="43" fill="#484848">−60</text><text x="732.5" y="1364.7" font-family="Liberation Sans" font-size="43" fill="#484848">−100</text><text x="809.1" y="1331.6" font-family="Liberation Sans" font-size="43" fill="#484848">−50</text><text x="891.9" y="1293.1" font-family="Liberation Sans" font-size="43" fill="#484848">0</text><text x="958.1" y="1267.0" font-family="Liberation Sans" font-size="43" fill="#484848">50</text><text x="296.7" y="1405.4" font-family="Liberation Sans" font-size="49" fill="#484848">Y(mm)</text><text x="893.6" y="1359.0" font-family="Liberation Sans" font-size="49" fill="#484848">X(mm)</text><text transform="translate(51.0,1029.9) rotate(-90) translate(-71.3,12.6)" font-family="Liberation Sans" font-size="49" fill="#484848">Z(mm)</text><text x="961.1" y="800.2" font-family="Liberation Serif" font-size="69.3" fill="#000">5 kV</text><path d="M576,757 L584,762 L593,770 L602,776 L610,786 L616,795 L620,805 L612,808 L600,802 L590,798 L578,796 L566,798 L552,803 L540,802 L542,794 L550,782 L557,774 L567,765 Z" fill="#f01414" stroke="#e01818" stroke-width="2" stroke-linejoin="round"/><g fill="none" stroke="#dc1c22" stroke-width="2.0"><circle cx="537.9" cy="796.0" r="6.3"/><circle cx="520.0" cy="817.9" r="6.3"/><circle cx="518.0" cy="834.9" r="6.3"/><circle cx="525.9" cy="827.9" r="6.3"/><circle cx="544.9" cy="813.9" r="6.3"/><circle cx="563.9" cy="811.9" r="6.3"/><circle cx="557.9" cy="827.9" r="6.3"/><circle cx="561.9" cy="835.9" r="6.3"/><circle cx="577.9" cy="813.9" r="6.3"/><circle cx="588.9" cy="812.9" r="6.3"/><circle cx="597.9" cy="805.9" r="6.3"/><circle cx="609.9" cy="813.9" r="6.3"/><circle cx="625.8" cy="810.9" r="6.3"/><circle cx="586.9" cy="837.9" r="6.3"/><circle cx="596.9" cy="831.9" r="6.3"/><circle cx="613.9" cy="829.9" r="6.3"/><circle cx="625.8" cy="831.9" r="6.3"/><circle cx="573.9" cy="834.9" r="6.3"/><circle cx="633.8" cy="850.9" r="6.3"/><circle cx="647.8" cy="839.9" r="6.3"/><circle cx="656.8" cy="843.9" r="6.3"/><circle cx="633.8" cy="859.9" r="6.3"/><circle cx="550.9" cy="852.9" r="6.3"/><circle cx="497.0" cy="836.9" r="6.3"/><circle cx="495.0" cy="849.9" r="6.3"/><circle cx="482.0" cy="854.9" r="6.3"/><circle cx="507.0" cy="864.9" r="6.3"/><circle cx="534.9" cy="867.9" r="6.3"/><circle cx="545.9" cy="875.9" r="6.3"/><circle cx="564.9" cy="873.9" r="6.3"/><circle cx="579.9" cy="875.9" r="6.3"/><circle cx="587.9" cy="882.9" r="6.3"/><circle cx="622.8" cy="879.9" r="6.3"/><circle cx="677.8" cy="863.9" r="6.3"/><circle cx="677.8" cy="874.9" r="6.3"/><circle cx="649.8" cy="889.9" r="6.3"/><circle cx="667.8" cy="889.9" r="6.3"/><circle cx="474.0" cy="877.9" r="6.3"/><circle cx="486.0" cy="882.9" r="6.3"/><circle cx="500.0" cy="882.9" r="6.3"/><circle cx="513.0" cy="881.9" r="6.3"/><circle cx="481.0" cy="891.9" r="6.3"/><circle cx="531.9" cy="805.9" r="6.3"/><circle cx="604.9" cy="801.9" r="6.3"/><circle cx="619.9" cy="819.9" r="6.3"/><circle cx="549.9" cy="801.9" r="6.3"/><circle cx="466.6" cy="874.9" r="6.3"/><circle cx="449.1" cy="890.8" r="6.3"/><circle cx="464.9" cy="889.9" r="6.3"/><circle cx="454.9" cy="917.4" r="6.3"/><circle cx="477.4" cy="906.6" r="6.3"/><circle cx="479.0" cy="894.9" r="6.3"/><circle cx="514.9" cy="897.4" r="6.3"/><circle cx="529.9" cy="919.9" r="6.3"/><circle cx="546.5" cy="909.9" r="6.3"/><circle cx="539.9" cy="896.6" r="6.3"/><circle cx="500.7" cy="929.1" r="6.3"/><circle cx="512.4" cy="942.4" r="6.3"/><circle cx="539.9" cy="952.4" r="6.3"/><circle cx="554.0" cy="957.4" r="6.3"/><circle cx="570.7" cy="954.9" r="6.3"/><circle cx="590.7" cy="944.1" r="6.3"/><circle cx="601.5" cy="963.2" r="6.3"/><circle cx="422.4" cy="976.6" r="6.3"/><circle cx="444.1" cy="968.2" r="6.3"/><circle cx="515.7" cy="977.4" r="6.3"/><circle cx="499.9" cy="986.5" r="6.3"/><circle cx="661.6" cy="894.9" r="6.3"/><circle cx="670.0" cy="904.9" r="6.3"/><circle cx="686.6" cy="919.9" r="6.3"/><circle cx="681.6" cy="926.6" r="6.3"/><circle cx="698.3" cy="933.2" r="6.3"/><circle cx="721.6" cy="937.4" r="6.3"/><circle cx="678.3" cy="939.9" r="6.3"/><circle cx="700.0" cy="949.9" r="6.3"/><circle cx="686.6" cy="949.9" r="6.3"/><circle cx="620.0" cy="941.6" r="6.3"/><circle cx="623.3" cy="929.9" r="6.3"/><circle cx="645.0" cy="939.9" r="6.3"/><circle cx="655.0" cy="934.9" r="6.3"/><circle cx="633.3" cy="959.9" r="6.3"/><circle cx="625.0" cy="966.6" r="6.3"/><circle cx="681.6" cy="968.2" r="6.3"/><circle cx="643.3" cy="979.9" r="6.3"/><circle cx="671.6" cy="984.9" r="6.3"/><circle cx="726.6" cy="978.2" r="6.3"/><circle cx="743.3" cy="981.6" r="6.3"/><circle cx="321.6" cy="1006.7" r="6.3"/><circle cx="326.6" cy="1013.3" r="6.3"/><circle cx="340.0" cy="1020.0" r="6.3"/><circle cx="358.3" cy="1010.0" r="6.3"/><circle cx="363.3" cy="1015.0" r="6.3"/><circle cx="384.9" cy="1006.7" r="6.3"/><circle cx="394.9" cy="1012.5" r="6.3"/><circle cx="411.6" cy="998.3" r="6.3"/><circle cx="379.9" cy="1030.0" r="6.3"/><circle cx="416.6" cy="1025.0" r="6.3"/><circle cx="409.1" cy="1036.6" r="6.3"/><circle cx="434.9" cy="1013.3" r="6.3"/><circle cx="449.9" cy="1009.2" r="6.3"/><circle cx="453.2" cy="1031.6" r="6.3"/><circle cx="482.4" cy="1033.3" r="6.3"/><circle cx="551.5" cy="1014.1" r="6.3"/><circle cx="585.7" cy="1005.0" r="6.3"/><circle cx="369.9" cy="1059.1" r="6.3"/><circle cx="381.6" cy="1058.3" r="6.3"/><circle cx="381.6" cy="1071.6" r="6.3"/><circle cx="356.6" cy="1075.8" r="6.3"/><circle cx="429.1" cy="1087.4" r="6.3"/><circle cx="467.4" cy="1079.1" r="6.3"/><circle cx="348.3" cy="1123.3" r="6.3"/><circle cx="386.6" cy="1214.9" r="6.3"/><circle cx="459.9" cy="1209.1" r="6.3"/><circle cx="678.3" cy="1005.0" r="6.3"/><circle cx="756.6" cy="993.3" r="6.3"/><circle cx="723.3" cy="1006.7" r="6.3"/><circle cx="746.6" cy="1011.7" r="6.3"/><circle cx="756.6" cy="1023.3" r="6.3"/><circle cx="639.1" cy="1090.8" r="6.3"/><circle cx="660.0" cy="1090.8" r="6.3"/><circle cx="660.0" cy="1121.6" r="6.3"/><circle cx="730.8" cy="1094.9" r="6.3"/><circle cx="752.4" cy="1153.2" r="6.3"/><circle cx="769.1" cy="1149.9" r="6.3"/><circle cx="794.1" cy="1141.6" r="6.3"/><circle cx="782.4" cy="1171.6" r="6.3"/><circle cx="681.6" cy="1198.2" r="6.3"/><circle cx="308.3" cy="1230.0" r="6.3"/><circle cx="326.6" cy="1229.2" r="6.3"/><circle cx="338.3" cy="1252.5" r="6.3"/><circle cx="348.3" cy="1260.0" r="6.3"/><circle cx="295.0" cy="1265.0" r="6.3"/><circle cx="315.0" cy="1263.3" r="6.3"/><circle cx="348.3" cy="1290.0" r="6.3"/><circle cx="359.9" cy="1284.1" r="6.3"/><circle cx="371.6" cy="1287.5" r="6.3"/><circle cx="473.2" cy="1290.8" r="6.3"/><circle cx="541.5" cy="1295.8" r="6.3"/><circle cx="593.2" cy="1295.8" r="6.3"/><circle cx="664.1" cy="1253.3" r="6.3"/><circle cx="623.3" cy="1298.3" r="6.3"/><circle cx="650.0" cy="1293.3" r="6.3"/><circle cx="681.6" cy="1290.8" r="6.3"/><circle cx="731.6" cy="1280.8" r="6.3"/><circle cx="769.1" cy="1284.1" r="6.3"/><circle cx="843.2" cy="1273.3" r="6.3"/><circle cx="850.7" cy="1237.5" r="6.3"/><circle cx="562.5" cy="792.8" r="6.3"/><circle cx="566.5" cy="787.3" r="6.3"/><circle cx="573.7" cy="782.7" r="6.3"/><circle cx="575.2" cy="779.9" r="6.3"/><circle cx="582.1" cy="776.3" r="6.3"/><circle cx="588.4" cy="780.5" r="6.3"/><circle cx="594.5" cy="783.8" r="6.3"/><circle cx="596.1" cy="790.5" r="6.3"/><circle cx="600.9" cy="792.0" r="6.3"/><circle cx="609.5" cy="798.2" r="6.3"/><circle cx="542.8" cy="809.0" r="6.3"/><circle cx="542.7" cy="816.7" r="6.3"/><circle cx="549.5" cy="816.8" r="6.3"/><circle cx="550.7" cy="821.1" r="6.3"/><circle cx="555.1" cy="818.8" r="6.3"/><circle cx="560.1" cy="807.5" r="6.3"/><circle cx="565.3" cy="807.0" r="6.3"/><circle cx="567.2" cy="816.3" r="6.3"/><circle cx="569.8" cy="814.2" r="6.3"/><circle cx="572.3" cy="829.0" r="6.3"/><circle cx="576.2" cy="811.6" r="6.3"/><circle cx="580.5" cy="817.0" r="6.3"/><circle cx="582.4" cy="821.2" r="6.3"/><circle cx="585.5" cy="825.6" r="6.3"/><circle cx="591.5" cy="809.2" r="6.3"/><circle cx="595.2" cy="829.0" r="6.3"/><circle cx="598.1" cy="824.7" r="6.3"/><circle cx="600.3" cy="811.3" r="6.3"/><circle cx="602.3" cy="803.2" r="6.3"/><circle cx="608.8" cy="823.0" r="6.3"/><circle cx="613.9" cy="819.4" r="6.3"/><circle cx="616.4" cy="824.5" r="6.3"/><circle cx="620.6" cy="823.0" r="6.3"/><circle cx="622.6" cy="812.5" r="6.3"/><circle cx="624.3" cy="811.1" r="6.3"/><circle cx="627.9" cy="804.4" r="6.3"/><circle cx="516.9" cy="826.5" r="6.3"/><circle cx="520.0" cy="825.0" r="6.3"/><circle cx="524.8" cy="825.3" r="6.3"/><circle cx="521.3" cy="816.9" r="6.3"/><circle cx="526.2" cy="819.6" r="6.3"/><circle cx="630.7" cy="846.5" r="6.3"/><circle cx="638.2" cy="842.0" r="6.3"/><circle cx="639.5" cy="847.9" r="6.3"/><circle cx="642.9" cy="849.8" r="6.3"/><circle cx="648.5" cy="843.9" r="6.3"/></g></g>
<g><path d="M1268.7,827.5 L1268.7,1295 L1858,1327 L2039,1215.5" fill="none" stroke="#4c4c4c" stroke-width="2.6" stroke-linejoin="miter"/><path d="M1268.7,1295.0 L1254.7,1295.0 M1268.7,1217.1 L1254.7,1217.1 M1268.7,1139.2 L1254.7,1139.2 M1268.7,1061.2 L1254.7,1061.2 M1268.7,983.3 L1254.7,983.3 M1268.7,905.4 L1254.7,905.4 M1268.7,827.5 L1254.7,827.5 M1268.7,1295.0 L1256.8,1302.3 M1366.9,1300.3 L1355.0,1307.7 M1465.1,1305.7 L1453.2,1313.0 M1563.3,1311.0 L1551.4,1318.3 M1661.6,1316.3 L1649.6,1323.7 M1759.8,1321.7 L1747.9,1329.0 M1858.0,1327.0 L1846.1,1334.3 M1858.0,1327.0 L1872.0,1327.8 M1918.3,1289.8 L1932.3,1290.6 M1978.7,1252.7 L1992.6,1253.4 M2039.0,1215.5 L2053.0,1216.3" stroke="#4c4c4c" stroke-width="2.2" fill="none"/><text x="1215.9" y="1307.3" font-family="Liberation Sans" font-size="43" fill="#484848">0</text><text x="1215.9" y="1232.7" font-family="Liberation Sans" font-size="43" fill="#484848">5</text><text x="1193.0" y="1155.0" font-family="Liberation Sans" font-size="43" fill="#484848">10</text><text x="1193.0" y="1076.9" font-family="Liberation Sans" font-size="43" fill="#484848">15</text><text x="1193.0" y="999.2" font-family="Liberation Sans" font-size="43" fill="#484848">20</text><text x="1193.0" y="921.3" font-family="Liberation Sans" font-size="43" fill="#484848">25</text><text x="1193.0" y="843.3" font-family="Liberation Sans" font-size="43" fill="#484848">30</text><text x="1222.0" y="1351.1" font-family="Liberation Sans" font-size="43" fill="#484848">60</text><text x="1313.3" y="1355.7" font-family="Liberation Sans" font-size="43" fill="#484848">40</text><text x="1419.5" y="1358.1" font-family="Liberation Sans" font-size="43" fill="#484848">20</text><text x="1531.5" y="1360.4" font-family="Liberation Sans" font-size="43" fill="#484848">0</text><text x="1604.3" y="1367.4" font-family="Liberation Sans" font-size="43" fill="#484848">−20</text><text x="1702.9" y="1372.0" font-family="Liberation Sans" font-size="43" fill="#484848">−40</text><text x="1801.6" y="1378.9" font-family="Liberation Sans" font-size="43" fill="#484848">−60</text><text x="1894.1" y="1363.8" font-family="Liberation Sans" font-size="43" fill="#484848">−100</text><text x="1957.1" y="1317.4" font-family="Liberation Sans" font-size="43" fill="#484848">−50</text><text x="2014.4" y="1274.5" font-family="Liberation Sans" font-size="43" fill="#484848">0</text><text x="2065.1" y="1241.9" font-family="Liberation Sans" font-size="43" fill="#484848">50</text><text x="1432.5" y="1409.3" font-family="Liberation Sans" font-size="49" fill="#484848">Y(mm)</text><text x="2037.4" y="1323.4" font-family="Liberation Sans" font-size="49" fill="#484848">X(mm)</text><text transform="translate(1158.3,1065.9) rotate(-90) translate(-71.3,12.6)" font-family="Liberation Sans" font-size="49" fill="#484848">Z(mm)</text><text x="2021.3" y="801.0" font-family="Liberation Serif" font-size="70.2" fill="#000">6 kV</text><path d="M1679,764 L1688,767 L1696,774 L1702,782 L1700,789 L1690,791 L1679,789 L1668,791 L1661,788 L1662,780 L1669,771 Z" fill="#f01414" stroke="#e01818" stroke-width="2" stroke-linejoin="round"/><g fill="none" stroke="#dc1c22" stroke-width="2.0"><circle cx="1667.9" cy="780.0" r="6.3"/><circle cx="1659.9" cy="790.0" r="6.3"/><circle cx="1655.9" cy="800.0" r="6.3"/><circle cx="1649.9" cy="807.9" r="6.3"/><circle cx="1643.9" cy="816.9" r="6.3"/><circle cx="1651.9" cy="822.9" r="6.3"/><circle cx="1664.9" cy="824.9" r="6.3"/><circle cx="1639.9" cy="826.9" r="6.3"/><circle cx="1655.9" cy="834.9" r="6.3"/><circle cx="1631.9" cy="832.9" r="6.3"/><circle cx="1628.0" cy="841.9" r="6.3"/><circle cx="1622.0" cy="849.9" r="6.3"/><circle cx="1616.0" cy="854.9" r="6.3"/><circle cx="1628.0" cy="856.9" r="6.3"/><circle cx="1610.0" cy="862.9" r="6.3"/><circle cx="1603.0" cy="869.9" r="6.3"/><circle cx="1595.0" cy="884.9" r="6.3"/><circle cx="1605.0" cy="884.9" r="6.3"/><circle cx="1614.0" cy="882.9" r="6.3"/><circle cx="1622.0" cy="885.9" r="6.3"/><circle cx="1610.0" cy="896.9" r="6.3"/><circle cx="1669.9" cy="805.0" r="6.3"/><circle cx="1680.9" cy="806.9" r="6.3"/><circle cx="1692.9" cy="805.0" r="6.3"/><circle cx="1699.9" cy="816.9" r="6.3"/><circle cx="1702.9" cy="824.9" r="6.3"/><circle cx="1697.9" cy="820.9" r="6.3"/><circle cx="1689.9" cy="793.0" r="6.3"/><circle cx="1702.9" cy="795.0" r="6.3"/><circle cx="1709.9" cy="800.0" r="6.3"/><circle cx="1718.9" cy="809.9" r="6.3"/><circle cx="1724.9" cy="824.9" r="6.3"/><circle cx="1729.9" cy="834.9" r="6.3"/><circle cx="1729.9" cy="842.9" r="6.3"/><circle cx="1739.8" cy="842.9" r="6.3"/><circle cx="1747.8" cy="846.9" r="6.3"/><circle cx="1751.8" cy="854.9" r="6.3"/><circle cx="1759.8" cy="859.9" r="6.3"/><circle cx="1766.8" cy="867.9" r="6.3"/><circle cx="1774.8" cy="874.9" r="6.3"/><circle cx="1739.8" cy="872.9" r="6.3"/><circle cx="1749.8" cy="874.9" r="6.3"/><circle cx="1759.8" cy="876.9" r="6.3"/><circle cx="1744.8" cy="884.9" r="6.3"/><circle cx="1757.8" cy="884.9" r="6.3"/><circle cx="1771.8" cy="884.9" r="6.3"/><circle cx="1788.8" cy="884.9" r="6.3"/><circle cx="1738.8" cy="892.9" r="6.3"/><circle cx="1759.8" cy="893.9" r="6.3"/><circle cx="1667.9" cy="874.9" r="6.3"/><circle cx="1679.9" cy="785.0" r="6.3"/><circle cx="1694.9" cy="785.0" r="6.3"/><circle cx="1714.9" cy="805.0" r="6.3"/><circle cx="1735.8" cy="829.9" r="6.3"/><circle cx="1635.9" cy="819.9" r="6.3"/><circle cx="1647.9" cy="814.9" r="6.3"/><circle cx="1618.0" cy="864.9" r="6.3"/><circle cx="1769.8" cy="894.9" r="6.3"/><circle cx="1547.4" cy="913.3" r="6.3"/><circle cx="1585.7" cy="904.9" r="6.3"/><circle cx="1599.9" cy="914.9" r="6.3"/><circle cx="1614.9" cy="903.3" r="6.3"/><circle cx="1574.1" cy="929.1" r="6.3"/><circle cx="1598.2" cy="929.9" r="6.3"/><circle cx="1593.2" cy="936.6" r="6.3"/><circle cx="1604.1" cy="951.6" r="6.3"/><circle cx="1641.5" cy="917.4" r="6.3"/><circle cx="1685.7" cy="913.3" r="6.3"/><circle cx="1685.7" cy="924.9" r="6.3"/><circle cx="1567.4" cy="951.6" r="6.3"/><circle cx="1566.6" cy="963.2" r="6.3"/><circle cx="1550.7" cy="973.2" r="6.3"/><circle cx="1564.9" cy="973.2" r="6.3"/><circle cx="1601.6" cy="976.6" r="6.3"/><circle cx="1625.7" cy="976.6" r="6.3"/><circle cx="1670.7" cy="968.2" r="6.3"/><circle cx="1606.6" cy="990.7" r="6.3"/><circle cx="1573.2" cy="992.4" r="6.3"/><circle cx="1446.6" cy="991.6" r="6.3"/><circle cx="1483.3" cy="993.2" r="6.3"/><circle cx="1728.2" cy="994.9" r="6.3"/><circle cx="1786.6" cy="908.3" r="6.3"/><circle cx="1796.6" cy="909.9" r="6.3"/><circle cx="1808.3" cy="911.6" r="6.3"/><circle cx="1780.0" cy="903.3" r="6.3"/><circle cx="1756.6" cy="903.3" r="6.3"/><circle cx="1796.6" cy="934.9" r="6.3"/><circle cx="1827.4" cy="941.6" r="6.3"/><circle cx="1779.1" cy="976.6" r="6.3"/><circle cx="1786.6" cy="988.2" r="6.3"/><circle cx="1795.0" cy="996.5" r="6.3"/><circle cx="1813.3" cy="969.9" r="6.3"/><circle cx="1826.6" cy="963.2" r="6.3"/><circle cx="1839.9" cy="973.2" r="6.3"/><circle cx="1828.3" cy="983.2" r="6.3"/><circle cx="1808.3" cy="976.6" r="6.3"/><circle cx="1470.0" cy="1003.3" r="6.3"/><circle cx="1480.0" cy="1011.7" r="6.3"/><circle cx="1519.9" cy="1012.5" r="6.3"/><circle cx="1553.2" cy="1008.3" r="6.3"/><circle cx="1563.2" cy="1008.3" r="6.3"/><circle cx="1643.2" cy="1020.8" r="6.3"/><circle cx="1699.0" cy="1003.3" r="6.3"/><circle cx="1500.8" cy="1039.1" r="6.3"/><circle cx="1496.6" cy="1059.1" r="6.3"/><circle cx="1520.8" cy="1047.5" r="6.3"/><circle cx="1518.3" cy="1056.6" r="6.3"/><circle cx="1544.9" cy="1054.1" r="6.3"/><circle cx="1629.9" cy="1055.0" r="6.3"/><circle cx="1552.4" cy="1179.1" r="6.3"/><circle cx="1693.2" cy="1198.2" r="6.3"/><circle cx="1417.5" cy="1219.1" r="6.3"/><circle cx="1761.6" cy="1070.8" r="6.3"/><circle cx="1755.0" cy="1099.9" r="6.3"/><circle cx="1838.3" cy="1084.1" r="6.3"/><circle cx="1859.9" cy="1077.5" r="6.3"/><circle cx="1854.9" cy="1094.9" r="6.3"/><circle cx="1854.1" cy="1121.6" r="6.3"/><circle cx="1856.6" cy="1139.1" r="6.3"/><circle cx="1444.1" cy="1235.0" r="6.3"/><circle cx="1457.5" cy="1243.3" r="6.3"/><circle cx="1478.3" cy="1245.8" r="6.3"/><circle cx="1450.0" cy="1261.6" r="6.3"/><circle cx="1473.3" cy="1265.0" r="6.3"/><circle cx="1582.4" cy="1229.2" r="6.3"/><circle cx="1592.4" cy="1225.8" r="6.3"/><circle cx="1548.2" cy="1278.3" r="6.3"/><circle cx="1627.4" cy="1291.6" r="6.3"/><circle cx="1677.4" cy="1275.0" r="6.3"/><circle cx="1700.7" cy="1287.5" r="6.3"/><circle cx="1736.5" cy="1293.3" r="6.3"/><circle cx="1773.3" cy="1230.8" r="6.3"/><circle cx="1817.4" cy="1235.8" r="6.3"/><circle cx="1916.6" cy="1226.7" r="6.3"/><circle cx="1919.9" cy="1240.8" r="6.3"/><circle cx="1949.9" cy="1251.6" r="6.3"/><circle cx="1780.0" cy="1286.6" r="6.3"/><circle cx="1796.6" cy="1278.3" r="6.3"/><circle cx="1809.9" cy="1280.8" r="6.3"/><circle cx="1672.6" cy="781.0" r="6.3"/><circle cx="1668.1" cy="780.1" r="6.3"/><circle cx="1666.2" cy="782.0" r="6.3"/><circle cx="1668.0" cy="788.6" r="6.3"/><circle cx="1666.0" cy="791.4" r="6.3"/><circle cx="1658.8" cy="788.5" r="6.3"/><circle cx="1660.8" cy="796.2" r="6.3"/><circle cx="1658.1" cy="797.5" r="6.3"/><circle cx="1653.6" cy="796.7" r="6.3"/><circle cx="1648.9" cy="798.4" r="6.3"/><circle cx="1647.7" cy="800.2" r="6.3"/><circle cx="1653.0" cy="808.4" r="6.3"/><circle cx="1649.5" cy="811.2" r="6.3"/><circle cx="1641.3" cy="809.4" r="6.3"/><circle cx="1649.5" cy="816.5" r="6.3"/><circle cx="1642.9" cy="818.5" r="6.3"/><circle cx="1640.2" cy="817.6" r="6.3"/><circle cx="1642.6" cy="826.3" r="6.3"/><circle cx="1636.9" cy="825.7" r="6.3"/><circle cx="1635.8" cy="827.4" r="6.3"/><circle cx="1628.9" cy="827.0" r="6.3"/><circle cx="1629.8" cy="832.2" r="6.3"/><circle cx="1624.4" cy="832.9" r="6.3"/><circle cx="1631.9" cy="838.6" r="6.3"/><circle cx="1629.8" cy="842.1" r="6.3"/><circle cx="1623.3" cy="843.2" r="6.3"/><circle cx="1626.0" cy="848.2" r="6.3"/><circle cx="1618.7" cy="845.1" r="6.3"/><circle cx="1618.5" cy="850.1" r="6.3"/><circle cx="1618.1" cy="853.8" r="6.3"/><circle cx="1614.4" cy="855.4" r="6.3"/><circle cx="1616.4" cy="858.9" r="6.3"/><circle cx="1616.7" cy="864.5" r="6.3"/><circle cx="1610.0" cy="861.8" r="6.3"/><circle cx="1609.4" cy="867.5" r="6.3"/><circle cx="1611.2" cy="872.5" r="6.3"/><circle cx="1609.0" cy="875.4" r="6.3"/><circle cx="1601.3" cy="870.8" r="6.3"/><circle cx="1606.2" cy="880.6" r="6.3"/><circle cx="1597.2" cy="876.9" r="6.3"/><circle cx="1602.1" cy="884.9" r="6.3"/><circle cx="1597.2" cy="885.1" r="6.3"/><circle cx="1689.2" cy="778.1" r="6.3"/><circle cx="1693.7" cy="778.7" r="6.3"/><circle cx="1692.9" cy="784.8" r="6.3"/><circle cx="1698.9" cy="786.7" r="6.3"/><circle cx="1698.3" cy="793.0" r="6.3"/><circle cx="1704.3" cy="789.5" r="6.3"/><circle cx="1703.2" cy="797.7" r="6.3"/><circle cx="1712.4" cy="791.0" r="6.3"/><circle cx="1715.3" cy="793.3" r="6.3"/><circle cx="1709.0" cy="803.6" r="6.3"/><circle cx="1719.9" cy="801.2" r="6.3"/><circle cx="1714.1" cy="808.4" r="6.3"/><circle cx="1724.9" cy="803.9" r="6.3"/><circle cx="1724.0" cy="811.5" r="6.3"/><circle cx="1721.5" cy="815.7" r="6.3"/><circle cx="1725.0" cy="819.2" r="6.3"/><circle cx="1729.9" cy="817.0" r="6.3"/><circle cx="1735.1" cy="816.8" r="6.3"/><circle cx="1732.0" cy="825.1" r="6.3"/><circle cx="1735.6" cy="829.9" r="6.3"/><circle cx="1740.8" cy="829.0" r="6.3"/><circle cx="1744.8" cy="831.1" r="6.3"/><circle cx="1742.0" cy="836.9" r="6.3"/><circle cx="1750.4" cy="834.9" r="6.3"/><circle cx="1752.0" cy="837.1" r="6.3"/><circle cx="1752.9" cy="841.6" r="6.3"/><circle cx="1753.5" cy="845.5" r="6.3"/><circle cx="1758.1" cy="843.9" r="6.3"/><circle cx="1758.7" cy="847.5" r="6.3"/><circle cx="1763.8" cy="850.5" r="6.3"/><circle cx="1765.4" cy="852.5" r="6.3"/><circle cx="1764.7" cy="861.2" r="6.3"/><circle cx="1768.0" cy="859.6" r="6.3"/><circle cx="1765.3" cy="865.7" r="6.3"/><circle cx="1774.9" cy="863.1" r="6.3"/><circle cx="1771.3" cy="872.9" r="6.3"/><circle cx="1779.7" cy="868.3" r="6.3"/><circle cx="1779.5" cy="874.7" r="6.3"/><circle cx="1779.1" cy="879.4" r="6.3"/><circle cx="1784.6" cy="878.4" r="6.3"/><circle cx="1783.7" cy="883.8" r="6.3"/><circle cx="1791.8" cy="882.5" r="6.3"/><circle cx="1670.7" cy="780.3" r="6.3"/><circle cx="1669.6" cy="787.3" r="6.3"/><circle cx="1664.0" cy="789.4" r="6.3"/><circle cx="1658.8" cy="794.2" r="6.3"/><circle cx="1661.0" cy="798.8" r="6.3"/><circle cx="1654.1" cy="804.3" r="6.3"/><circle cx="1652.2" cy="804.8" r="6.3"/><circle cx="1646.9" cy="809.5" r="6.3"/><circle cx="1646.5" cy="813.4" r="6.3"/><circle cx="1640.1" cy="819.6" r="6.3"/><circle cx="1638.4" cy="824.8" r="6.3"/><circle cx="1637.5" cy="831.0" r="6.3"/><circle cx="1691.3" cy="783.0" r="6.3"/><circle cx="1696.3" cy="786.1" r="6.3"/><circle cx="1699.8" cy="791.9" r="6.3"/><circle cx="1700.3" cy="792.5" r="6.3"/><circle cx="1707.0" cy="792.9" r="6.3"/><circle cx="1710.2" cy="801.0" r="6.3"/><circle cx="1712.6" cy="802.0" r="6.3"/><circle cx="1721.8" cy="805.5" r="6.3"/><circle cx="1724.6" cy="811.3" r="6.3"/><circle cx="1727.1" cy="815.0" r="6.3"/><circle cx="1733.4" cy="817.9" r="6.3"/><circle cx="1732.5" cy="824.4" r="6.3"/></g></g>
</svg>
</body></html>
